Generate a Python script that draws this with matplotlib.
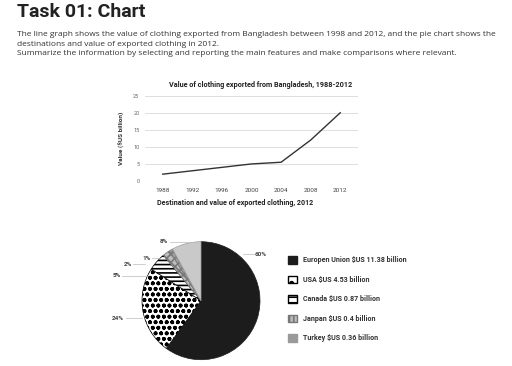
import matplotlib
matplotlib.use('Agg')
import matplotlib.pyplot as plt
from matplotlib.patches import Patch

plt.rcParams['font.family'] = ['Roboto', 'DejaVu Sans']
plt.rcParams['hatch.linewidth'] = 1.2

# line chart data
years = [1988, 1992, 1996, 2000, 2004, 2008, 2012]
export_value = [2, 3, 4, 5, 5.5, 12, 20]

# pie chart data (share of 2012 exports, %)
pie_pct = [60, 24, 5, 2, 1, 8]
pie_labels = ['60%', '24%', '5%', '2%', '1%', '8%']
legend_labels = [
    r'Europen Union \$US 11.38 billion',
    r'USA \$US 4.53 billion',
    r'Canada \$US 0.87 billion',
    r'Janpan \$US 0.4 billion',
    r'Turkey \$US 0.36 billion',
]

W, H = 512, 366
fig = plt.figure(figsize=(W / 100, H / 100), dpi=100)
fig.patch.set_facecolor('white')

# heading and task text
fig.text(17 / W, 1 - 12 / H, 'Task 01: Chart', fontsize=14, fontweight='bold',
         color='#222222', va='center', ha='left')
body = ['The line graph shows the value of clothing exported from Bangladesh between 1998 and 2012, '
        'and the pie chart shows the',
        'destinations and value of exported clothing in 2012.',
        'Summarize the information by selecting and reporting the main features and make '
        'comparisons where relevant.']
for line, y in zip(body, [34.5, 44.5, 53.5]):
    fig.text(17 / W, 1 - y / H, line, fontsize=6.0, family=['Open Sans', 'DejaVu Sans'],
             color='#333333', va='center', ha='left')

# line chart
ax = fig.add_axes([145 / W, 1 - 181 / H, 213 / W, 85.3 / H])
ax.plot(years, export_value, color='#333333', lw=1.0)
ax.set_xlim(1985.6, 2014.4)
ax.set_ylim(0, 25)
ax.set_xticks(years)
ax.set_yticks([0, 5, 10, 15, 20, 25])
ax.grid(axis='y', color='#d9d9d9', lw=0.6)
ax.set_axisbelow(True)
for s in ax.spines.values():
    s.set_visible(False)
ax.tick_params(axis='y', length=0, labelsize=4, labelcolor='#666666', pad=4)
ax.tick_params(axis='x', length=0, labelsize=4.6, labelcolor='#444444', pad=5)
ax.set_ylabel(r'Value (\$US billion)', fontsize=4.6, fontweight='bold', color='#333333',
              labelpad=6)
fig.text(261 / W, 1 - 85 / H, 'Value of clothing exported from Bangladesh, 1988-2012',
         fontsize=5.2, fontweight='bold', color='#222222', ha='center', va='center')
fig.text(157 / W, 1 - 203 / H, 'Destination and value of exported clothing, 2012',
         fontsize=5.15, fontweight='bold', color='#222222', ha='left', va='center')

# pie chart
R = 59
cx, cy = 201, 300.7
pax = fig.add_axes([(cx - R) / W, 1 - (cy + R) / H, 2 * R / W, 2 * R / H])
faces = ['#1c1c1c', 'white', 'white', '#bdbdbd', '#9a9a9a', '#c9c9c9']
edges = ['#1c1c1c', 'black', 'black', '#777777', '#777777', '#a0a0a0']
hatches = [None, 'ooo', '----', 'xxxx', '////', None]
wedges, _ = pax.pie(pie_pct, startangle=90, counterclock=False, radius=1,
                    wedgeprops=dict(linewidth=0.5))
for w, fc, ec, h in zip(wedges, faces, edges, hatches):
    w.set_facecolor(fc)
    w.set_edgecolor(ec)
    if h:
        w.set_hatch(h)
pax.set_xlim(-1, 1)
pax.set_ylim(-1, 1)
pax.set_aspect('equal')
pax.axis('off')

# label placement (pie units): text x, text y, line start x, line end x
label_pos = [(0.915, 0.79, 0.71, 0.89),
             (-1.30, -0.30, -1.0, -1.27),
             (-1.36, 0.424, -0.915, -1.34),
             (-1.164, 0.617, -0.95, -1.15),
             (-0.847, 0.72, -0.695, -0.835),
             (-0.553, 1.0, -0.136, -0.525)]
for lab, (tx, ty, x0, x1) in zip(pie_labels, label_pos):
    pax.plot([x0, x1], [ty, ty], color='#bbbbbb', lw=0.5, clip_on=False)
    pax.text(tx, ty, lab, fontsize=4.6, color='#444444', fontweight='bold',
             ha='left' if tx > 0 else 'right', va='center', clip_on=False)

# legend
handles = [Patch(facecolor='#1c1c1c', edgecolor='#1c1c1c'),
           Patch(facecolor='white', edgecolor='black', hatch='.'),
           Patch(facecolor='white', edgecolor='black', hatch='---'),
           Patch(facecolor='#bdbdbd', edgecolor='#777777', hatch='||||'),
           Patch(facecolor='#9a9a9a', edgecolor='#9a9a9a')]
leg = fig.legend(handles, legend_labels, loc='upper left',
                 bbox_to_anchor=(288 / W, 1 - 256 / H), frameon=False,
                 prop=dict(size=5.1, weight='bold'), handlelength=1.3,
                 handleheight=1.3, handletextpad=0.85, labelspacing=1.6,
                 borderpad=0, borderaxespad=0)
for t in leg.get_texts():
    t.set_color('#333333')

fig.savefig('out.png', dpi=100, facecolor='white')
